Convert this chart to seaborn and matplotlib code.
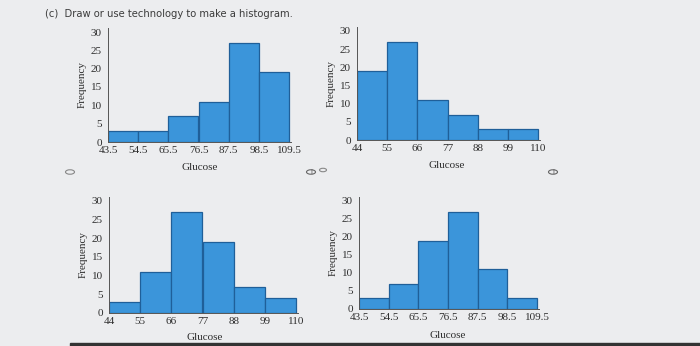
import matplotlib
matplotlib.use("Agg")
import matplotlib.pyplot as plt
import seaborn as sns
import numpy as np
from matplotlib.patches import Circle, Rectangle

# ---- data ----
edges_half = [43.5, 54.5, 65.5, 76.5, 87.5, 98.5, 109.5]
edges_int = [44, 55, 66, 77, 88, 99, 110]
labels_half = ["43.5", "54.5", "65.5", "76.5", "87.5", "98.5", "109.5"]
labels_int = ["44", "55", "66", "77", "88", "99", "110"]
counts_tl = [3, 3, 7, 11, 27, 19]
counts_tr = [19, 27, 11, 7, 3, 3]
counts_bl = [3, 11, 27, 19, 7, 4]
counts_br = [3, 7, 19, 27, 11, 3]
yticks = [0, 5, 10, 15, 20, 25, 30]
title_text = "(c)  Draw or use technology to make a histogram."

sns.set_style("white")
plt.rcParams['font.family'] = ['DejaVu Sans']

W, H = 700, 346
fig = plt.figure(figsize=(7.0, 3.46), dpi=100)
fig.patch.set_facecolor("#ecedef")

BAR = "#3b95da"
EDGE = "#1f5f99"
TXT = "#2e2e2e"
SERIF = ["Liberation Serif", "DejaVu Serif"]


def make_ax(x0, x1, y0, y30, edges, labels, counts, glucose_x, glucose_y):
    span = edges[-1] - edges[0]
    ppu_x = (x1 - x0) / span
    xmax = edges[-1] + 0.6
    ppu_y = (y0 - y30) / 30.0
    ymax = 31.2
    left = x0 / W
    width = (xmax - edges[0]) * ppu_x / W
    bottom = 1 - y0 / H
    height = ymax * ppu_y / H
    ax = fig.add_axes([left, bottom, width, height])
    ax.set_facecolor("none")
    mids = [(edges[i] + edges[i + 1]) / 2 for i in range(len(counts))]
    sns.histplot(x=mids, weights=counts, bins=edges, ax=ax, color=BAR,
                 edgecolor=EDGE, linewidth=0.9, alpha=1.0)
    ax.set_xlim(edges[0], xmax)
    ax.set_ylim(0, ymax)
    ax.set_xticks(edges)
    ax.set_xticklabels(labels, fontsize=8, color=TXT, family=SERIF)
    ax.set_yticks(yticks)
    ax.set_yticklabels([str(t) for t in yticks], fontsize=8, color=TXT,
                       family=SERIF)
    ax.set_yticks(np.arange(0, 31, 1), minor=True)
    ax.tick_params(axis="y", which="major", length=3, width=0.6, pad=1.5,
                   direction="out", colors="#555555", labelcolor=TXT)
    ax.tick_params(axis="y", which="minor", length=1.5, width=0.4,
                   colors="#777777")
    ax.tick_params(axis="x", length=0, pad=3, labelcolor=TXT)
    for s in ["top", "right"]:
        ax.spines[s].set_visible(False)
    for s in ["left", "bottom"]:
        ax.spines[s].set_color("#555555")
        ax.spines[s].set_linewidth(0.7)
    ax.set_xlabel("")
    ax.set_ylabel("Frequency", fontsize=8, color=TXT, family=SERIF,
                  labelpad=3)
    fig.text(glucose_x / W, 1 - glucose_y / H, "Glucose", ha="center",
             va="center", fontsize=8, color=TXT, family=SERIF)
    return ax


make_ax(108, 289, 142, 32, edges_half, labels_half, counts_tl, 200, 168)
make_ax(357, 538, 140, 31, edges_int, labels_int, counts_tr, 447, 166)
make_ax(109, 296, 313, 201, edges_int, labels_int, counts_bl, 205, 338)
make_ax(359, 537, 309, 201, edges_half, labels_half, counts_br, 448, 335)

fig.text(45 / W, 1 - 14 / H, title_text, ha="left", va="center",
         fontsize=7.2, color="#3c3c3c")


def circ(x, y, r=4.5, lw=0.8, col="#888888"):
    fig.patches.append(Circle((x / W, 1 - y / H), r / W, transform=fig.transFigure,
                              fill=False, edgecolor=col, linewidth=lw))


circ(70, 172)
circ(323, 170, r=3.5)
circ(311, 172, r=4.5, col="#666666")
fig.text(311 / W, 1 - 172 / H, "i", ha="center", va="center", fontsize=5,
         color="#555555")
circ(553, 172, r=4.5, col="#666666")
fig.text(553 / W, 1 - 172 / H, "i", ha="center", va="center", fontsize=5,
         color="#555555")

fig.patches.append(Rectangle((70 / W, 0), 630 / W, 3 / H,
                             transform=fig.transFigure, color="#333333"))

fig.savefig("out.png", dpi=100, facecolor=fig.get_facecolor())
